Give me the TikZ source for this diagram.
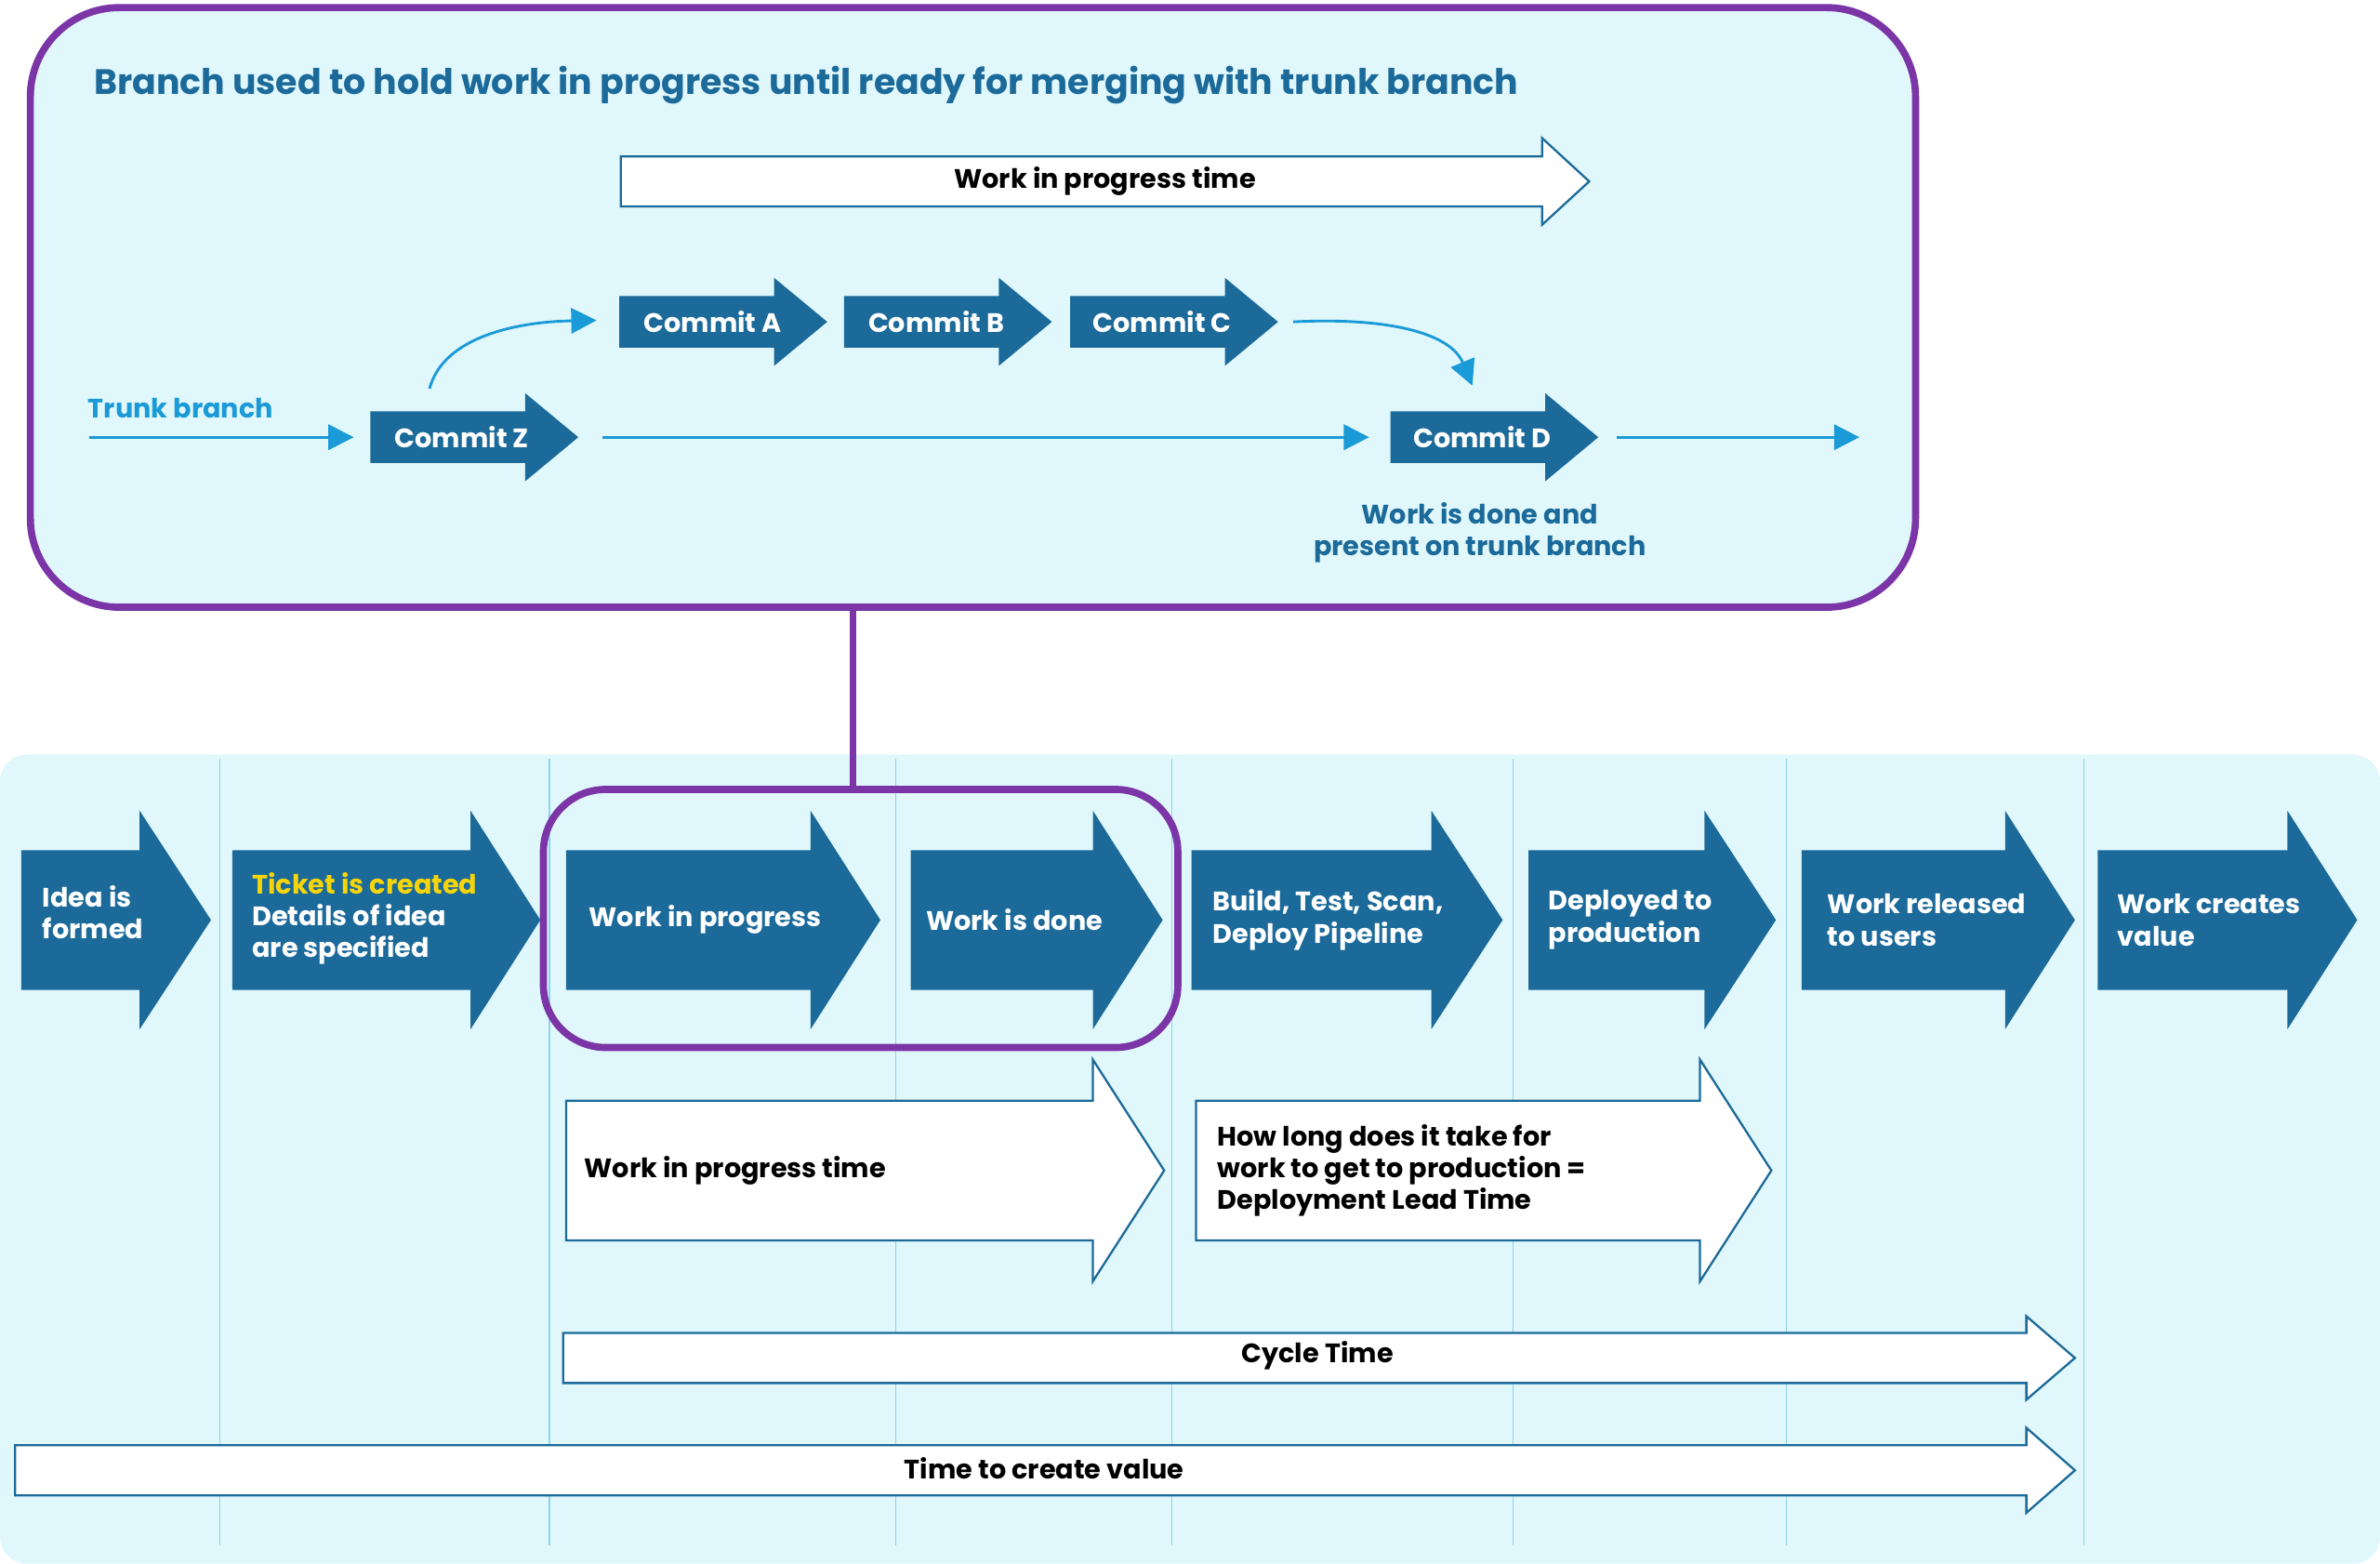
\documentclass[tikz,border=0pt]{standalone}
\usepackage{fontspec}
\setmainfont{Poppins}
\usetikzlibrary{arrows.meta}
\definecolor{flowblue}{HTML}{1B6A9A}
\definecolor{panelbg}{HTML}{E0F7FC}
\definecolor{branchpurple}{HTML}{7B35A6}
\definecolor{trunkblue}{HTML}{1A9AD6}
\definecolor{ticketyellow}{HTML}{F5D50A}
\definecolor{gridline}{HTML}{8FD3EC}
\tikzset{
  >={Triangle[length=5mm,width=5mm]},
  {step arrow/.style} ={fill=flowblue},
  {time arrow/.style} ={fill=white,draw=flowblue,line width=1.2pt},
  {step text/.style} ={anchor=west,align=left,text=white,font=\bfseries\fontsize{15}{18}\selectfont},
  {time text/.style} ={align=left,text=black,font=\bfseries\fontsize{15}{18}\selectfont},
  {trunk/.style} ={draw=trunkblue,line width=1.5pt,->},
  {lane/.style} ={draw=gridline,line width=0.6pt},
}
% #1 style, #2 name, #3 left, #4 head start, #5 tip, #6 centre y, #7 body half, #8 head half
\newcommand{\flowarrow}[8]{%
  \path[#1] (#3,#6-#7) -- (#4,#6-#7) -- (#4,#6-#8) -- (#5,#6) -- (#4,#6+#8)
    -- (#4,#6+#7) -- (#3,#6+#7) -- cycle;
  \coordinate (#2) at (#3,#6);}

\begin{document}
\begin{tikzpicture}[x=0.03cm,y=-0.03cm]
    \useasboundingbox (0,0) rectangle (1568,1030);
    % bottom panel
    \fill[panelbg,rounded corners=15] (0,497) rectangle (1568,1030);
    \foreach \x in {145,362,590,772,997,1177,1373}
      \draw[lane] (\x,500) -- (\x,1018);
    % top panel
    \draw[branchpurple,line width=4pt,fill=panelbg,rounded corners=50]
      (20,5) rectangle (1262,400);
    \coordinate (link top) at (562,400);
    \coordinate (link bottom) at (562,520);
    \draw[branchpurple,line width=4pt] (link top) -- (link bottom);
    \draw[branchpurple,line width=4pt,rounded corners=35] (358,520) rectangle (776,690);
    \node[anchor=west,text=flowblue,font=\bfseries\fontsize{19.8}{24}\selectfont] (title) at (58,56)
      {Branch used to hold work in progress until ready for merging with trunk branch};

    % branch diagram
    \flowarrow{time arrow}{wiptop}{409}{1016}{1047}{119.5}{16.5}{28.5}
    \node[time text] at (728,119.5) {Work in progress time};
    \flowarrow{step arrow}{cz}{244}{346}{381}{288}{17}{29}
    \node[step text] at (256,288) {Commit Z};
    \flowarrow{step arrow}{ca}{408}{510}{545}{212}{17}{29}
    \node[step text] at (420,212) {Commit A};
    \flowarrow{step arrow}{cb}{556}{658}{693}{212}{17}{29}
    \node[step text] at (568,212) {Commit B};
    \flowarrow{step arrow}{cc}{705}{807}{842}{212}{17}{29}
    \node[step text] at (716,212) {Commit C};
    \flowarrow{step arrow}{cd}{916}{1018}{1053}{288}{17}{29}
    \node[step text] at (927,288) {Commit D};
    \node[anchor=west,text=trunkblue,font=\bfseries\fontsize{15}{18}\selectfont] (trunk label) at (54,269) {Trunk branch};
    \coordinate (trunk start) at (59,288);
    \coordinate (trunk z) at (233,288);
    \coordinate (trunk mid) at (397,288);
    \coordinate (trunk d) at (902,288);
    \coordinate (trunk out) at (1065,288);
    \coordinate (trunk end) at (1225,288);
    \draw[trunk] (trunk start) -- (trunk z);
    \draw[trunk] (trunk mid) -- (trunk d);
    \draw[trunk] (trunk out) -- (trunk end);
    \coordinate (fork) at (283,256);
    \coordinate (fork end) at (393,211);
    \coordinate (merge) at (852,212);
    \coordinate (merge end) at (970,254);
    \draw[trunk] (fork) .. controls (292,222) and (340,212) .. (fork end);
    \draw[trunk] (merge) .. controls (910,209) and (955,218) .. (merge end);
    \node[align=center,text=flowblue,font=\bfseries\fontsize{15}{18}\selectfont] (done note) at (975,351)
      {Work is done and\\present on trunk branch};

    % value stream
    \flowarrow{step arrow}{idea}{14}{92}{139}{606}{46}{72}
    \node[step text] at (24,601) {Idea is\\formed};
    \flowarrow{step arrow}{ticket}{153}{310}{356}{606}{46}{72}
    \node[step text] at (162,605) {\textcolor{ticketyellow}{Ticket is created}\\Details of idea\\are specified};
    \flowarrow{step arrow}{wip}{373}{534}{580}{606}{46}{72}
    \node[step text] at (384,606) {Work in progress};
    \flowarrow{step arrow}{done}{600}{720}{766}{606}{46}{72}
    \node[step text] at (606,606) {Work is done};
    \flowarrow{step arrow}{build}{785}{943}{990}{606}{46}{72}
    \node[step text] at (795,606) {Build, Test, Scan,\\Deploy Pipeline};
    \flowarrow{step arrow}{deploy}{1007}{1123}{1170}{606}{46}{72}
    \node[step text] at (1016,606) {Deployed to\\production};
    \flowarrow{step arrow}{release}{1187}{1321}{1367}{606}{46}{72}
    \node[step text] at (1200,606) {Work released\\to users};
    \flowarrow{step arrow}{value}{1382}{1507}{1553}{606}{46}{72}
    \node[step text] at (1391,606) {Work creates\\value};

    % timings
    \flowarrow{time arrow}{wiptime}{373}{720}{767}{771}{46}{73}
    \node[time text,anchor=west] at (381,771) {Work in progress time};
    \flowarrow{time arrow}{leadtime}{788}{1120}{1167}{771}{46}{73}
    \node[time text,anchor=west] at (798,771) {How long does it take for\\work to get to production =\\Deployment Lead Time};
    \flowarrow{time arrow}{cycle}{371}{1335}{1367}{894.5}{16.5}{27.5}
    \node[time text] at (868,893) {Cycle Time};
    \flowarrow{time arrow}{tocreate}{10}{1335}{1367}{968.5}{16.5}{28}
    \node[time text] at (688,967) {Time to create value};
\end{tikzpicture}
\end{document}
